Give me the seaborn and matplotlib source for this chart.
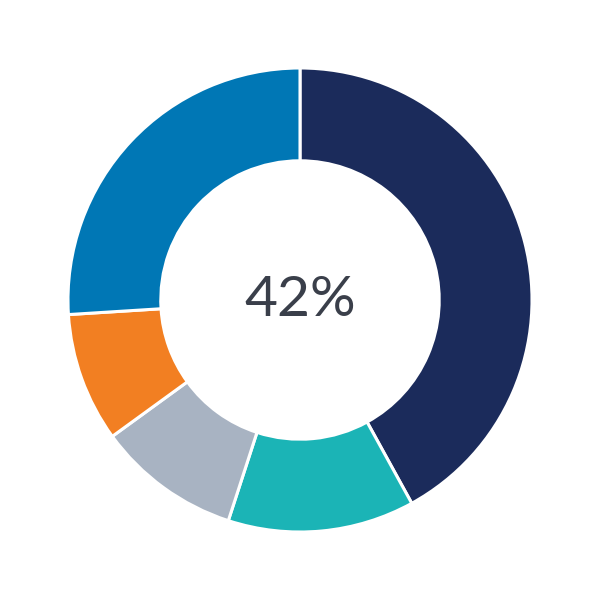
import matplotlib
matplotlib.use("Agg")
import matplotlib.pyplot as plt
import seaborn as sns

# ── data ─────────────────────────────────────────────────────────────────────
segments = ["Navy", "Teal", "Gray", "Orange", "Blue"]
shares   = [42, 13, 10, 9, 26]
colours  = ["#1b2b5b", "#1bb4b6", "#a8b3c2", "#f27f22", "#0077b5"]
centre_label = "42%"

# ── plot ─────────────────────────────────────────────────────────────────────
sns.set_theme(style="white")
plt.rcParams['font.family'] = ['Lato', 'DejaVu Sans']

fig = plt.figure(figsize=(6, 6), dpi=100)
ax = fig.add_axes([0, 0, 1, 1])

ax.pie(shares, colors=sns.color_palette(colours), startangle=90,
       counterclock=False, radius=1.0,
       wedgeprops=dict(width=0.40, edgecolor="white", linewidth=2.2))

ax.text(0, 0, centre_label, ha="center", va="center",
        fontsize=41, color="#3a3f4a")

lim = 1.293
ax.set_xlim(-lim, lim)
ax.set_ylim(-lim, lim)
ax.set_aspect("equal")
ax.axis("off")

fig.savefig("out.png", dpi=100, facecolor="white")
